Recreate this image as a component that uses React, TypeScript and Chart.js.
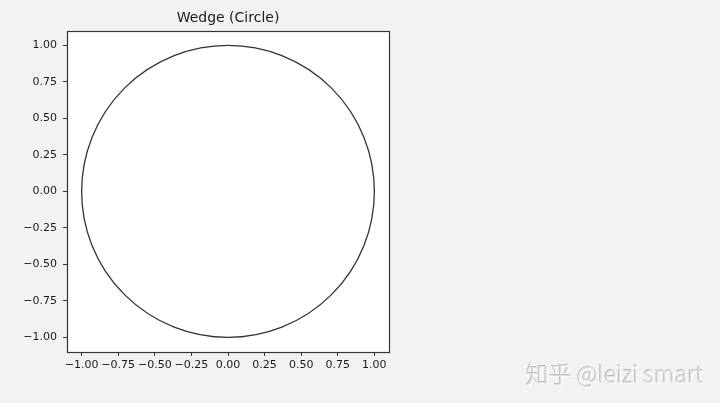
import React, { useEffect, useRef } from "react";
import { Chart, registerables } from "chart.js";

Chart.register(...registerables);

// ---- data ----
const chartTitle = "Wedge (Circle)";
const wedgeCenter = [0, 0];
const wedgeRadius = [1];
const wedgeTheta = [0, 360];
const axisRange = [-1.1, 1.1];
const tickValues = [-1.0, -0.75, -0.5, -0.25, 0.0, 0.25, 0.5, 0.75, 1.0];
const watermark = "知乎 @leizi smart";

const fmt = (v: number) => v.toFixed(2).replace("-", "\u2212");

const wedgePlugin = {
  id: "wedge",
  beforeDraw(chart: any) {
    const { ctx, chartArea } = chart;
    ctx.save();
    ctx.fillStyle = "#ffffff";
    ctx.fillRect(chartArea.left, chartArea.top, chartArea.right - chartArea.left, chartArea.bottom - chartArea.top);
    ctx.restore();
  },
  afterDatasetsDraw(chart: any) {
    const { ctx, scales } = chart;
    const xs = scales.x;
    const ys = scales.y;
    const px = xs.getPixelForValue(wedgeCenter[0]);
    const py = ys.getPixelForValue(wedgeCenter[1]);
    const rx = Math.abs(xs.getPixelForValue(wedgeCenter[0] + wedgeRadius[0]) - px);
    const ry = Math.abs(ys.getPixelForValue(wedgeCenter[1] + wedgeRadius[0]) - py);
    const a0 = (-wedgeTheta[0] * Math.PI) / 180;
    const a1 = (-wedgeTheta[1] * Math.PI) / 180;
    ctx.save();
    ctx.beginPath();
    ctx.ellipse(px, py, rx, ry, 0, a0, a1, true);
    ctx.closePath();
    ctx.strokeStyle = "#333333";
    ctx.lineWidth = 1.3;
    ctx.stroke();
    ctx.restore();
  },
  afterDraw(chart: any) {
    const { ctx, chartArea } = chart;
    ctx.save();
    ctx.strokeStyle = "#333333";
    ctx.lineWidth = 1.2;
    ctx.strokeRect(
      Math.round(chartArea.left) + 0.5,
      Math.round(chartArea.top) + 0.5,
      Math.round(chartArea.right - chartArea.left),
      Math.round(chartArea.bottom - chartArea.top)
    );
    ctx.restore();
  },
};

export default function App() {
  const ref = useRef<HTMLCanvasElement | null>(null);
  useEffect(() => {
    if (!ref.current) return;
    const tickFont = { family: "DejaVu Sans", size: 11 };
    const axisCommon = (pos: string) => ({
      type: "linear" as const,
      position: pos,
      min: axisRange[0],
      max: axisRange[1],
      afterBuildTicks: (scale: any) => {
        scale.ticks = tickValues.map((v) => ({ value: v }));
      },
      grid: {
        display: true,
        drawOnChartArea: false,
        drawTicks: true,
        tickLength: 4,
        tickColor: "#333333",
        tickWidth: 1,
      },
      border: { display: false },
    });
    const chart = new Chart(ref.current, {
      type: "scatter",
      data: { datasets: [{ data: [], showLine: false }] },
      options: {
        animation: false,
        responsive: false,
        maintainAspectRatio: false,
        devicePixelRatio: 1,
        layout: { padding: { left: 0, right: 331, top: 0, bottom: 0 } },
        plugins: {
          legend: { display: false },
          tooltip: { enabled: false },
          title: {
            display: true,
            text: chartTitle,
            fullSize: false,
            color: "#1a1a1a",
            font: { family: "DejaVu Sans", size: 14, weight: "normal", lineHeight: 1.2 },
            padding: { top: 10, bottom: 4 },
          },
        },
        scales: {
          x: {
            ...axisCommon("bottom"),
            afterFit: (scale: any) => {
              scale.height = 51;
            },
            ticks: {
              font: tickFont,
              color: "#1a1a1a",
              padding: 3,
              maxRotation: 0,
              autoSkip: false,
              callback: (v: any) => fmt(Number(v)),
            },
          },
          y: {
            ...axisCommon("left"),
            afterFit: (scale: any) => {
              scale.width = 67;
            },
            ticks: {
              font: tickFont,
              color: "#1a1a1a",
              padding: 6,
              autoSkip: false,
              callback: (v: any) => fmt(Number(v)),
            },
          },
        },
      } as any,
      plugins: [wedgePlugin],
    });
    return () => chart.destroy();
  }, []);

  return (
    <div
      style={{
        position: "fixed",
        left: 0,
        top: 0,
        width: 720,
        height: 403,
        background: "#f2f2f2",
        overflow: "hidden",
      }}
    >
      <canvas ref={ref} width={720} height={403} style={{ display: "block", width: 720, height: 403 }} />
      <div
        style={{
          position: "absolute",
          left: 526,
          top: 358,
          fontFamily: "'Noto Sans CJK SC', 'Noto Sans', sans-serif",
          fontSize: 23,
          fontWeight: 300,
          color: "#dedede",
          whiteSpace: "nowrap",
          lineHeight: "30px",
          textShadow: "-1px -1px 0 #bdbdbd, 1px 1px 0 #ffffff",
        }}
      >
        {watermark}
      </div>
    </div>
  );
}
